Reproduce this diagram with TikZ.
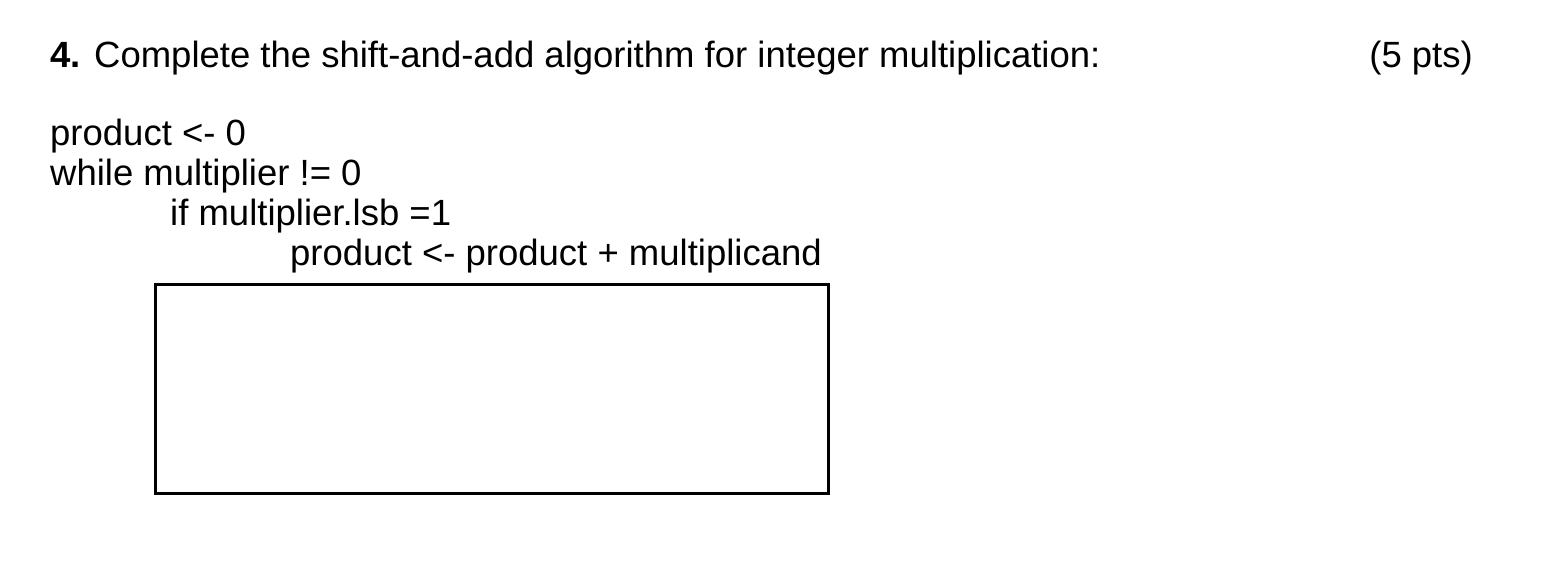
\documentclass[tikz,border=0pt]{standalone}
\usepackage{fontspec}
\setmainfont{Liberation Sans}
\begin{document}
\begin{tikzpicture}[x=1pt,y=1pt,txt/.style={anchor=base west,inner sep=0pt,font=\fontsize{36.5}{42}\selectfont}]
\useasboundingbox (0,0) rectangle (1542,560);
\node[txt] (t) at (50,492) {\textbf{4.} Complete the shift-and-add algorithm for integer multiplication:};
\node[txt,anchor=base east] (p) at (1473,492) {(5 pts)};
\node[txt] (l1) at (50,414) {product <- 0};
\node[txt] (l2) at (50,374) {while multiplier != 0};
\node[txt] (l3) at (170,334) {if multiplier.lsb =1};
\node[txt] (l4) at (290,294) {product <- product + multiplicand};
\draw[line width=3pt] (155,275) rectangle (828,67);
\end{tikzpicture}
\end{document}
